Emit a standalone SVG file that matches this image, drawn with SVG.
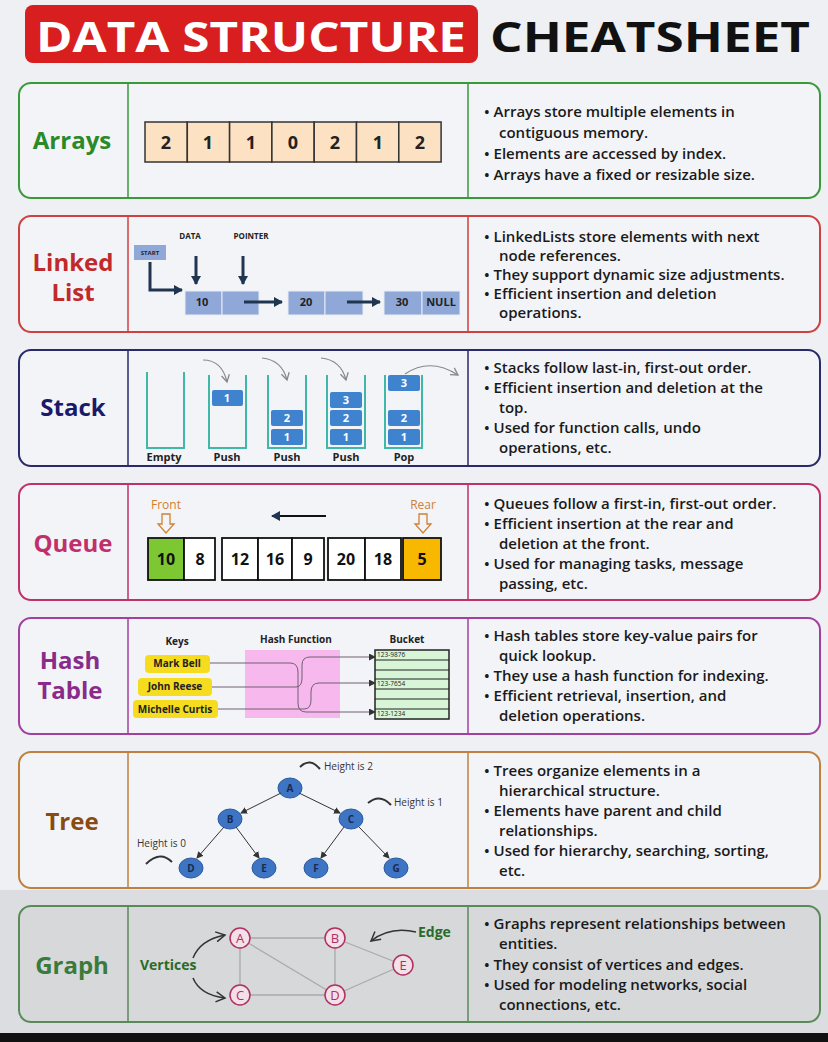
<svg xmlns="http://www.w3.org/2000/svg" width="828" height="1042" viewBox="0 0 828 1042">
<defs>
<marker id="ah" markerUnits="userSpaceOnUse" markerWidth="10" markerHeight="10" refX="8" refY="5" orient="auto"><path d="M0,0 L9,5 L0,10 z" fill="#1f3550"/></marker>
<marker id="ag" markerUnits="userSpaceOnUse" markerWidth="7" markerHeight="7" refX="6" refY="3.5" orient="auto"><path d="M0,0 L7,3.5 L0,7 z" fill="#333"/></marker>
<marker id="ao" markerUnits="userSpaceOnUse" markerWidth="10" markerHeight="10" refX="8" refY="5" orient="auto"><path d="M1,1 L8,5 L1,9" fill="none" stroke="#888" stroke-width="1.3"/></marker>
<marker id="ak" markerUnits="userSpaceOnUse" markerWidth="12" markerHeight="12" refX="10" refY="6" orient="auto"><path d="M1,1 L10,6 L1,11" fill="none" stroke="#333" stroke-width="1.5"/></marker>
</defs>
<style>
text{font-family:"Open Sans","Liberation Sans",sans-serif}
.panel{fill:#f3f4f8;stroke-width:2}
.div{stroke-width:1.5}
.lab{font-size:24px;font-weight:bold;text-anchor:middle}
.b{font-size:15px;font-weight:600;fill:#1a1a1a}
.cell{fill:#fde1c3;stroke:#333;stroke-width:1.5}
.ct{font-size:18px;font-weight:bold;text-anchor:middle;fill:#222}
.ln{fill:#8fa8d8;stroke:#e8ecf5;stroke-width:1}
.st{fill:none;stroke:#3fb8a8;stroke-width:2}
.blk{fill:#3f83cf}
.bt{font-size:11px;fill:#fff;text-anchor:middle;font-weight:bold}
.sl{font-size:11px;font-weight:bold;text-anchor:middle;fill:#222}
.q{fill:#fff;stroke:#111;stroke-width:1.8}
.qt{font-size:16px;font-weight:bold;text-anchor:middle;fill:#111}
.key{fill:#f5dc1e}
.kt{font-size:10px;font-weight:bold;text-anchor:middle;fill:#222}
.tn{fill:#3d74c4;stroke:#2a5aa0}
.tt{font-size:10px;font-weight:bold;text-anchor:middle;fill:#1a2a50}
.gn{fill:#f3e0e8;stroke:#b03060;stroke-width:1.5}
.gt{font-size:13px;text-anchor:middle;fill:#b03060}
.small{font-size:10px;fill:#333}
</style>
<rect width="828" height="1042" fill="#eef0f4"/>
<rect x="0" y="890" width="828" height="152" fill="#dcdde0"/>
<rect x="0" y="1033" width="828" height="9" fill="#111"/>
<g id="title">
<rect x="25" y="5" width="453" height="58" rx="8" fill="#d81e1e"/>
<text x="36" y="52" font-size="42" font-weight="bold" fill="#fff" textLength="430" lengthAdjust="spacingAndGlyphs">DATA STRUCTURE</text>
<text x="490" y="52" font-size="42" font-weight="bold" fill="#111" textLength="320" lengthAdjust="spacingAndGlyphs">CHEATSHEET</text>
</g>

<g id="arrays">
<rect class="panel" x="19" y="83" width="801" height="115" rx="12" stroke="#3a9a3a"/>
<line class="div" x1="128" y1="84" x2="128" y2="197" stroke="#3a9a3a"/><line class="div" x1="468" y1="84" x2="468" y2="197" stroke="#3a9a3a"/>
<text class="lab" x="72" y="149" fill="#2a8a2a">Arrays</text>
<rect class="cell" x="145" y="122" width="42.3" height="40"/><rect class="cell" x="187.3" y="122" width="42.3" height="40"/><rect class="cell" x="229.6" y="122" width="42.3" height="40"/><rect class="cell" x="271.9" y="122" width="42.3" height="40"/><rect class="cell" x="314.2" y="122" width="42.3" height="40"/><rect class="cell" x="356.5" y="122" width="42.3" height="40"/><rect class="cell" x="398.8" y="122" width="42.3" height="40"/>
<text class="ct" x="166" y="149">2</text><text class="ct" x="208" y="149">1</text><text class="ct" x="251" y="149">1</text><text class="ct" x="293" y="149">0</text><text class="ct" x="335" y="149">2</text><text class="ct" x="378" y="149">1</text><text class="ct" x="420" y="149">2</text>
<text class="b" x="484" y="117">• Arrays store multiple elements in</text>
<text class="b" x="499" y="138">contiguous memory.</text>
<text class="b" x="484" y="159">• Elements are accessed by index.</text>
<text class="b" x="484" y="180">• Arrays have a fixed or resizable size.</text>
</g>

<g id="linkedlist">
<rect class="panel" x="19" y="216" width="801" height="116" rx="12" stroke="#d04040"/>
<line class="div" x1="128" y1="217" x2="128" y2="331" stroke="#d04040"/><line class="div" x1="468" y1="217" x2="468" y2="331" stroke="#d04040"/>
<text class="lab" x="73" y="271" fill="#c02a2a">Linked</text><text class="lab" x="73" y="301" fill="#c02a2a">List</text>
<rect x="134" y="245" width="32" height="15" fill="#8fa8d8"/><text x="150" y="255" font-size="6" font-weight="bold" text-anchor="middle" fill="#223">START</text>
<text x="190" y="239" font-size="8" font-weight="bold" text-anchor="middle" fill="#222">DATA</text>
<text x="251" y="239" font-size="8" font-weight="bold" text-anchor="middle" fill="#222">POINTER</text>
<rect class="ln" x="185" y="291" width="37" height="24"/><rect class="ln" x="222" y="291" width="37" height="24"/>
<rect class="ln" x="288" y="291" width="37" height="24"/><rect class="ln" x="325" y="291" width="38" height="24"/>
<rect class="ln" x="384" y="291" width="38" height="24"/><rect class="ln" x="422" y="291" width="38" height="24"/>
<text class="sl" x="202" y="306" font-size="9">10</text><text class="sl" x="306" y="306" font-size="9">20</text><text class="sl" x="402" y="306" font-size="9">30</text><text class="sl" x="441" y="306" font-size="9">NULL</text>
</g>

<g id="stack">
<rect class="panel" x="19" y="350" width="801" height="116" rx="12" stroke="#2a2a6a"/>
<line class="div" x1="128" y1="351" x2="128" y2="465" stroke="#2a2a6a"/><line class="div" x1="468" y1="351" x2="468" y2="465" stroke="#2a2a6a"/>
<text class="lab" x="73" y="416" fill="#1a1a6a">Stack</text>
<path class="st" d="M147,372 V448 H184 V372"/>
<path class="st" d="M209,375 V448 H246 V375"/>
<path class="st" d="M268,375 V448 H306 V375"/>
<path class="st" d="M327,375 V448 H365 V375"/>
<path class="st" d="M385,375 V448 H422 V375"/>
<rect class="blk" x="212" y="390" width="31" height="16" rx="2"/><text class="bt" x="227" y="402">1</text>
<rect class="blk" x="271" y="429" width="32" height="16" rx="2"/><text class="bt" x="287" y="441">1</text>
<rect class="blk" x="271" y="410" width="32" height="16" rx="2"/><text class="bt" x="287" y="422">2</text>
<rect class="blk" x="330" y="429" width="32" height="16" rx="2"/><text class="bt" x="346" y="441">1</text>
<rect class="blk" x="330" y="410" width="32" height="16" rx="2"/><text class="bt" x="346" y="422">2</text>
<rect class="blk" x="330" y="392" width="32" height="16" rx="2"/><text class="bt" x="346" y="404">3</text>
<rect class="blk" x="388" y="429" width="32" height="16" rx="2"/><text class="bt" x="404" y="441">1</text>
<rect class="blk" x="388" y="410" width="32" height="16" rx="2"/><text class="bt" x="404" y="422">2</text>
<rect class="blk" x="388" y="375" width="32" height="16" rx="2"/><text class="bt" x="404" y="387">3</text>
<text class="sl" x="164" y="461">Empty</text><text class="sl" x="227" y="461">Push</text><text class="sl" x="287" y="461">Push</text><text class="sl" x="346" y="461">Push</text><text class="sl" x="404" y="461">Pop</text>
</g>

<g id="queue">
<rect class="panel" x="19" y="484" width="801" height="116" rx="12" stroke="#c0306a"/>
<line class="div" x1="128" y1="485" x2="128" y2="599" stroke="#c0306a"/><line class="div" x1="468" y1="485" x2="468" y2="599" stroke="#c0306a"/>
<text class="lab" x="73" y="552" fill="#c0306a">Queue</text>
<text x="166" y="509" font-size="12" fill="#d08030" text-anchor="middle">Front</text>
<text x="423" y="509" font-size="12" fill="#d08030" text-anchor="middle">Rear</text>
<path d="M162,514 h8 v10 h4 l-8,9 l-8,-9 h4 z" fill="none" stroke="#d08030" stroke-width="1.3"/>
<path d="M419,514 h8 v10 h4 l-8,9 l-8,-9 h4 z" fill="none" stroke="#d08030" stroke-width="1.3"/>
<rect x="148" y="538" width="36" height="42" fill="#7dc832" stroke="#111" stroke-width="1.8"/>
<rect class="q" x="184" y="538" width="31" height="42"/><rect class="q" x="222" y="538" width="36" height="42"/><rect class="q" x="258" y="538" width="34" height="42"/><rect class="q" x="292" y="538" width="32" height="42"/><rect class="q" x="328" y="538" width="37" height="42"/><rect class="q" x="365" y="538" width="36" height="42"/>
<rect x="403" y="538" width="38" height="42" fill="#f8b800" stroke="#111" stroke-width="1.8"/>
<text class="qt" x="166" y="565">10</text><text class="qt" x="200" y="565">8</text><text class="qt" x="240" y="565">12</text><text class="qt" x="275" y="565">16</text><text class="qt" x="308" y="565">9</text><text class="qt" x="346" y="565">20</text><text class="qt" x="383" y="565">18</text><text class="qt" x="422" y="565">5</text>
</g>

<g id="hashtable">
<rect class="panel" x="19" y="618" width="801" height="116" rx="12" stroke="#a040a0"/>
<line class="div" x1="128" y1="619" x2="128" y2="733" stroke="#a040a0"/><line class="div" x1="468" y1="619" x2="468" y2="733" stroke="#a040a0"/>
<text class="lab" x="70" y="669" fill="#8a2a8a">Hash</text><text class="lab" x="70" y="699" fill="#8a2a8a">Table</text>
<text class="kt" x="177" y="645">Keys</text><text class="kt" x="296" y="643">Hash Function</text><text class="kt" x="407" y="643">Bucket</text>
<rect x="245" y="650" width="95" height="68" fill="#f7b8ee"/>
<rect class="key" x="145" y="655" width="65" height="18" rx="4"/><text class="kt" x="177" y="667">Mark Bell</text>
<rect class="key" x="138" y="678" width="74" height="18" rx="4"/><text class="kt" x="175" y="690">John Reese</text>
<rect class="key" x="133" y="700" width="85" height="18" rx="4"/><text class="kt" x="175" y="713">Michelle Curtis</text>
<rect x="375" y="650" width="74" height="69" fill="#d8f5d8" stroke="#222" stroke-width="1.5"/>
<path d="M375,660 h74 M375,670 h74 M375,679 h74 M375,689 h74 M375,699 h74 M375,709 h74" stroke="#222" stroke-width="1"/>
<text x="377" y="657" font-size="6.5" fill="#222">123-9876</text><text x="377" y="686" font-size="6.5" fill="#222">123-7654</text><text x="377" y="716" font-size="6.5" fill="#222">123-1234</text>
</g>

<g id="tree">
<rect class="panel" x="19" y="752" width="801" height="136" rx="12" stroke="#c08040"/>
<line class="div" x1="128" y1="753" x2="128" y2="887" stroke="#c08040"/><line class="div" x1="468" y1="753" x2="468" y2="887" stroke="#c08040"/>
<text class="lab" x="72" y="830" fill="#8a4a10">Tree</text>
<ellipse class="tn" cx="290" cy="788" rx="12" ry="10"/><text class="tt" x="290" y="792">A</text>
<ellipse class="tn" cx="230" cy="819" rx="12" ry="10"/><text class="tt" x="230" y="823">B</text>
<ellipse class="tn" cx="351" cy="819" rx="12" ry="10"/><text class="tt" x="351" y="823">C</text>
<ellipse class="tn" cx="191" cy="868" rx="12" ry="10"/><text class="tt" x="191" y="872">D</text>
<ellipse class="tn" cx="264" cy="868" rx="12" ry="10"/><text class="tt" x="264" y="872">E</text>
<ellipse class="tn" cx="316" cy="868" rx="12" ry="10"/><text class="tt" x="316" y="872">F</text>
<ellipse class="tn" cx="396" cy="868" rx="12" ry="10"/><text class="tt" x="396" y="872">G</text>
<text class="small" x="324" y="770">Height is 2</text>
<text class="small" x="394" y="806">Height is 1</text>
<text class="small" x="137" y="847">Height is 0</text>
</g>

<g id="graph">
<rect x="19" y="906" width="801" height="116" rx="12" fill="#d6d8da" stroke="#5a8a5a" stroke-width="2"/>
<line class="div" x1="128" y1="907" x2="128" y2="1021" stroke="#5a8a5a"/><line class="div" x1="468" y1="907" x2="468" y2="1021" stroke="#5a8a5a"/>
<text class="lab" x="72" y="974" fill="#3a7a3a">Graph</text>
<text x="140" y="970" font-size="14" font-weight="bold" fill="#2a6a2a">Vertices</text>
<text x="418" y="937" font-size="14" font-weight="bold" fill="#2a6a2a">Edge</text>
<g stroke="#aaa" stroke-width="1.3">
<line x1="240" y1="938" x2="335" y2="938"/><line x1="240" y1="938" x2="240" y2="995"/><line x1="240" y1="938" x2="335" y2="995"/><line x1="335" y1="938" x2="335" y2="995"/><line x1="335" y1="938" x2="403" y2="965"/><line x1="240" y1="995" x2="335" y2="995"/><line x1="335" y1="995" x2="403" y2="965"/>
</g>
<circle class="gn" cx="240" cy="938" r="10"/><text class="gt" x="240" y="943">A</text>
<circle class="gn" cx="335" cy="938" r="10"/><text class="gt" x="335" y="943">B</text>
<circle class="gn" cx="403" cy="965" r="10"/><text class="gt" x="403" y="970">E</text>
<circle class="gn" cx="240" cy="995" r="10"/><text class="gt" x="240" y="1000">C</text>
<circle class="gn" cx="335" cy="995" r="10"/><text class="gt" x="335" y="1000">D</text>
</g>

<g id="connectors" fill="none">
<path d="M150,262 V290 H182" stroke="#1f3550" stroke-width="3" marker-end="url(#ah)"/>
<path d="M196,256 V284" stroke="#1f3550" stroke-width="3" marker-end="url(#ah)"/>
<path d="M243,256 V284" stroke="#1f3550" stroke-width="3" marker-end="url(#ah)"/>
<path d="M244,302 H282" stroke="#1f3550" stroke-width="3" marker-end="url(#ah)"/>
<path d="M347,302 H380" stroke="#1f3550" stroke-width="3" marker-end="url(#ah)"/>
<g stroke="#888" stroke-width="1.2">
<path d="M203,360 Q222,360 227,382" marker-end="url(#ao)"/>
<path d="M262,358 Q282,360 287,380" marker-end="url(#ao)"/>
<path d="M321,358 Q341,360 346,380" marker-end="url(#ao)"/>
<path d="M405,374 Q430,357 458,375" marker-end="url(#ao)"/>
</g>
<path d="M326,516 H272" stroke="#111" stroke-width="2" marker-end="url(#ah)"/>
<g stroke="#706070" stroke-width="1">
<path d="M210,663 H290 Q298,663 298,672 V703 Q298,712 306,712 H375" marker-end="url(#ag)"/>
<path d="M212,687 H296 Q302,687 302,678 V665 Q302,657 310,657 H375" marker-end="url(#ag)"/>
<path d="M218,709 H304 Q311,709 311,700 V692 Q311,683 319,683 H375" marker-end="url(#ag)"/>
</g>
<g stroke="#333" stroke-width="1">
<line x1="281" y1="793" x2="241" y2="813" marker-end="url(#ag)"/>
<line x1="299" y1="793" x2="340" y2="813" marker-end="url(#ag)"/>
<line x1="224" y1="827" x2="197" y2="858" marker-end="url(#ag)"/>
<line x1="236" y1="827" x2="259" y2="858" marker-end="url(#ag)"/>
<line x1="344" y1="827" x2="321" y2="858" marker-end="url(#ag)"/>
<line x1="359" y1="827" x2="389" y2="858" marker-end="url(#ag)"/>
</g>
<g stroke="#333" stroke-width="2">
<path d="M320,769 Q310,757 300,767"/>
<path d="M391,805 Q380,793 368,803"/>
<path d="M146,864 Q160,850 172,862"/>
</g>
<g stroke="#333" stroke-width="1.5">
<path d="M193,958 Q200,940 225,935" marker-end="url(#ak)"/>
<path d="M193,978 Q200,995 225,998" marker-end="url(#ak)"/>
<path d="M416,932 Q390,926 371,941" marker-end="url(#ak)"/>
</g>
</g>

<g id="text-right">
<text class="b" x="484" y="242">• LinkedLists store elements with next</text>
<text class="b" x="499" y="261">node references.</text>
<text class="b" x="484" y="280">• They support dynamic size adjustments.</text>
<text class="b" x="484" y="299">• Efficient insertion and deletion</text>
<text class="b" x="499" y="318">operations.</text>
<text class="b" x="484" y="373">• Stacks follow last-in, first-out order.</text>
<text class="b" x="484" y="393">• Efficient insertion and deletion at the</text>
<text class="b" x="499" y="413">top.</text>
<text class="b" x="484" y="433">• Used for function calls, undo</text>
<text class="b" x="499" y="453">operations, etc.</text>
<text class="b" x="484" y="509">• Queues follow a first-in, first-out order.</text>
<text class="b" x="484" y="529">• Efficient insertion at the rear and</text>
<text class="b" x="499" y="549">deletion at the front.</text>
<text class="b" x="484" y="569">• Used for managing tasks, message</text>
<text class="b" x="499" y="589">passing, etc.</text>
<text class="b" x="484" y="641">• Hash tables store key-value pairs for</text>
<text class="b" x="499" y="661">quick lookup.</text>
<text class="b" x="484" y="681">• They use a hash function for indexing.</text>
<text class="b" x="484" y="701">• Efficient retrieval, insertion, and</text>
<text class="b" x="499" y="721">deletion operations.</text>
<text class="b" x="484" y="776">• Trees organize elements in a</text>
<text class="b" x="499" y="796">hierarchical structure.</text>
<text class="b" x="484" y="816">• Elements have parent and child</text>
<text class="b" x="499" y="836">relationships.</text>
<text class="b" x="484" y="856">• Used for hierarchy, searching, sorting,</text>
<text class="b" x="499" y="876">etc.</text>
<text class="b" x="484" y="929">• Graphs represent relationships between</text>
<text class="b" x="499" y="949">entities.</text>
<text class="b" x="484" y="970">• They consist of vertices and edges.</text>
<text class="b" x="484" y="990">• Used for modeling networks, social</text>
<text class="b" x="499" y="1010">connections, etc.</text>
</g>
</svg>
